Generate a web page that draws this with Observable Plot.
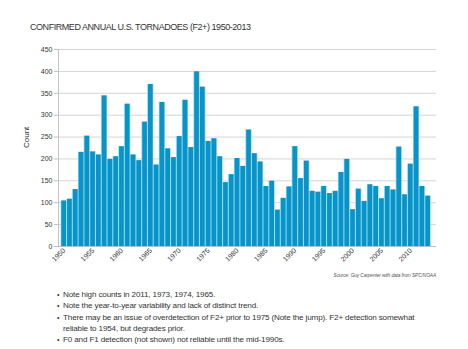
<!DOCTYPE html>
<html>
<head>
<meta charset="utf-8">
<script src="https://cdn.jsdelivr.net/npm/d3@7"></script>
<script src="https://cdn.jsdelivr.net/npm/@observablehq/plot@0.6"></script>
<style>
  html, body { margin: 0; padding: 0; background: #fff; }
  body { width: 468px; height: 349px; position: relative; overflow: hidden; font-family: "Liberation Sans", "Noto Sans", sans-serif; }
  #chart { position: absolute; left: 0; top: 0; z-index: 0; }
  #title { position: absolute; left: 30px; top: 22px; font-size: 9px; color: #333; white-space: nowrap; letter-spacing: -0.45px; z-index: 2; }
  #source { position: absolute; right: 32px; top: 273px; font-size: 4.8px; font-style: italic; color: #555; white-space: nowrap; letter-spacing: -0.1px; z-index: 2; }
  #notes { position: absolute; left: 57px; top: 289px; font-size: 8.1px; color: #333; margin: 0; padding: 0; list-style: none; line-height: 11.3px; letter-spacing: -0.15px; z-index: 2; }
  #notes li { position: relative; padding-left: 6px; white-space: nowrap; }
  #notes li::before { content: "•"; position: absolute; left: 0; font-size: 7px; }
</style>
</head>
<body>
<div id="chart"></div>
<div id="title"></div>
<div id="source"></div>
<ul id="notes"></ul>
<script>
const titleText = "CONFIRMED ANNUAL U.S. TORNADOES (F2+) 1950-2013";
const sourceText = "Source: Guy Carpenter with data from SPC/NOAA";
const yLabel = "Count";
const notes = [
  "Note high counts in 2011, 1973, 1974, 1965.",
  "Note the year-to-year variability and lack of distinct trend.",
  "There may be an issue of overdetection of F2+ prior to 1975 (Note the jump). F2+ detection somewhat<br>reliable to 1954, but degrades prior.",
  "F0 and F1 detection (not shown) not reliable until the mid-1990s."
];

const years = d3.range(1950, 2014);
const counts = [
  104, 108, 130, 215, 252, 216, 209, 344, 199, 205,
  228, 325, 209, 196, 284, 370, 186, 329, 223, 203,
  251, 334, 226, 399, 364, 240, 246, 205, 146, 164,
  201, 183, 266, 212, 193, 137, 149, 83, 110, 136,
  228, 155, 195, 126, 124, 137, 121, 126, 169, 199,
  84, 131, 103, 141, 137, 109, 137, 129, 227, 118,
  188, 319, 137, 115
];
const yTicks = d3.range(0, 451, 50);
const xTicks = d3.range(1950, 2014, 5);

const data = years.map((y, i) => ({year: y, count: counts[i]}));

document.getElementById("title").textContent = titleText;
document.getElementById("source").textContent = sourceText;
document.getElementById("notes").innerHTML = notes.map(n => `<li>${n}</li>`).join("");

const chart = Plot.plot({
  width: 468,
  height: 280,
  marginLeft: 58,
  marginRight: 32,
  marginTop: 49,
  marginBottom: 34,
  style: {fontFamily: "Liberation Sans, sans-serif", fontSize: "7px", color: "#444", background: "transparent"},
  x: {type: "band", domain: years, range: [60.8, 430.5], paddingInner: 0.19, paddingOuter: 0.09, label: null},
  y: {domain: [0, 450], label: null},
  marks: [
    Plot.ruleY(yTicks.filter(d => d > 0), {stroke: "#d4d4d4", strokeWidth: 1}),
    Plot.barY(data, {x: "year", y: "count", fill: "#7fdcf5", insetLeft: -0.7, insetRight: -0.7}),
    Plot.barY(data, {x: "year", y: "count", fill: "#0b93c7"}),
    Plot.ruleY([0], {stroke: "#bdbdbd", strokeWidth: 1}),
    Plot.frame({anchor: "left", stroke: "#c4c4c4"}),
    Plot.axisY({ticks: yTicks, tickSize: 4, tickPadding: 2, stroke: "#bdbdbd", label: null, fill: "#333"}),
    Plot.axisX({ticks: xTicks, tickFormat: d => String(d), tickSize: 0, tickRotate: -45, tickPadding: 3, label: null, fill: "#333"}),
    Plot.text([yLabel], {frameAnchor: "left", dx: -32, rotate: -90, fontSize: 8, fill: "#333"})
  ]
});
document.getElementById("chart").appendChild(chart);
</script>
</body>
</html>
